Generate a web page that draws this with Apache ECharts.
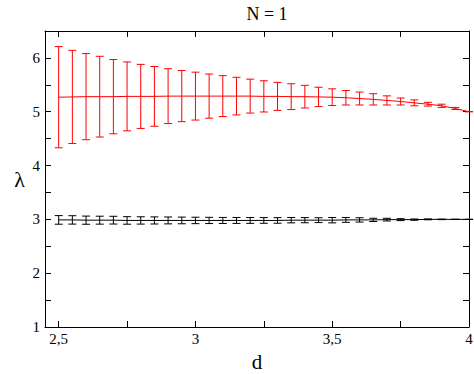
<!DOCTYPE html>
<html>
<head>
<meta charset="utf-8">
<script src="https://cdn.jsdelivr.net/npm/echarts@6/dist/echarts.min.js"></script>
<style>html,body{margin:0;padding:0;background:#fff;}#c{width:474px;height:374px;}</style>
</head>
<body>
<div id="c"></div>
<script>
const dValues = [2.5,2.55,2.6,2.65,2.7,2.75,2.8,2.85,2.9,2.95,3.0,3.05,3.1,3.15,3.2,3.25,3.3,3.35,3.4,3.45,3.5,3.55,3.6,3.65,3.7,3.75,3.8,3.85,3.9,3.95,4.0];
const redMean = [5.27,5.275,5.28,5.28,5.28,5.285,5.285,5.285,5.29,5.29,5.29,5.29,5.29,5.29,5.29,5.285,5.285,5.28,5.28,5.275,5.27,5.26,5.245,5.23,5.21,5.19,5.165,5.14,5.11,5.06,5.0];
const redErr = [0.94,0.865,0.80,0.75,0.69,0.64,0.595,0.555,0.51,0.475,0.445,0.41,0.38,0.35,0.315,0.29,0.26,0.24,0.21,0.18,0.155,0.135,0.12,0.105,0.085,0.065,0.055,0.035,0.03,0.02,0.0];
const blackMean = [2.99,2.99,2.985,2.985,2.985,2.98,2.98,2.98,2.98,2.98,2.98,2.98,2.98,2.98,2.98,2.98,2.98,2.985,2.985,2.985,2.985,2.99,2.99,2.99,2.995,2.995,2.995,3.0,3.0,3.0,3.0];
const blackErr = [0.08,0.078,0.076,0.074,0.072,0.07,0.068,0.066,0.064,0.062,0.06,0.058,0.056,0.055,0.054,0.053,0.052,0.05,0.048,0.045,0.05,0.045,0.04,0.03,0.025,0.018,0.012,0.008,0.005,0.003,0.0];
const xTickValues = [2.5,2.75,3,3.25,3.5,3.75,4];
const xLabelValues = [2.5,3,3.5,4];
const yTickValues = [1,1.5,2,2.5,3,3.5,4,4.5,5,5.5,6,6.5];
const yLabelValues = [1,2,3,4,5,6];
const titleText = 'N = 1';
const xName = 'd';
const yName = 'λ';

const RED = '#ff0000', BLACK = '#000000';
const FONT = "'Liberation Serif', 'Times New Roman', 'DejaVu Serif', serif";

function errData(mean, err){
  return dValues.map((d,i)=>[d, mean[i]-err[i], mean[i]+err[i]]);
}
function lineData(mean){ return dValues.map((d,i)=>[d, mean[i]]); }
function makeRender(color){
  return function(params, api){
    const x = api.value(0), lo = api.value(1), hi = api.value(2);
    const pLo = api.coord([x, lo]), pHi = api.coord([x, hi]);
    const hw = 4;
    const st = {stroke: color, lineWidth: 1, fill: null};
    return {type:'group', children:[
      {type:'line', shape:{x1:pLo[0],y1:pLo[1],x2:pHi[0],y2:pHi[1]}, style:st},
      {type:'line', shape:{x1:pHi[0]-hw,y1:pHi[1],x2:pHi[0]+hw,y2:pHi[1]}, style:st},
      {type:'line', shape:{x1:pLo[0]-hw,y1:pLo[1],x2:pLo[0]+hw,y2:pLo[1]}, style:st}
    ]};
  };
}
const fmt = v => String(v).replace('.', ',');
function xAxisCfg(pos, showLabel){
  return {
    type:'value', position:pos, min:2.45, max:4,
    name: showLabel ? xName : '', nameLocation:'middle', nameGap:24,
    nameTextStyle:{fontFamily:FONT, fontSize:21, color:'#000'},
    axisLine:{show:true, onZero:false, lineStyle:{color:'#000', width:1}},
    axisTick:{show:true, inside:true, length:6, customValues:xTickValues, lineStyle:{color:'#000'}},
    axisLabel:{show:showLabel, customValues:xLabelValues, formatter:fmt, margin:4, fontFamily:FONT, fontSize:15, color:'#000'},
    splitLine:{show:false}
  };
}
function yAxisCfg(pos, showLabel){
  return {
    type:'value', position:pos, min:1, max:6.5,
    name: showLabel ? yName : '', nameLocation:'middle', nameGap:20, nameRotate:0,
    nameTextStyle:{fontFamily:FONT, fontSize:22, color:'#000'},
    axisLine:{show:true, onZero:false, lineStyle:{color:'#000', width:1}},
    axisTick:{show:true, inside:true, length:6, customValues:yTickValues, lineStyle:{color:'#000'}},
    axisLabel:{show:showLabel, customValues:yLabelValues, formatter:fmt, margin:5, fontFamily:FONT, fontSize:15, color:'#000'},
    splitLine:{show:false}
  };
}
const chart = echarts.init(document.getElementById('c'), null, {renderer:'svg'});
chart.setOption({
  animation:false,
  backgroundColor:'#fff',
  textStyle:{fontFamily:FONT},
  title:{text:titleText, left:262, textAlign:'center', top:0, textStyle:{fontFamily:FONT, fontSize:18, fontWeight:'normal', color:'#000'}},
  grid:{left:45, right:5, top:31, bottom:47, containLabel:false, outerBoundsMode:'none'},
  xAxis:[xAxisCfg('bottom', true), xAxisCfg('top', false)],
  yAxis:[yAxisCfg('left', true), yAxisCfg('right', false)],
  series:[
    {type:'line', data:lineData(blackMean), symbol:'none', lineStyle:{color:BLACK, width:1}, xAxisIndex:0, yAxisIndex:0},
    {type:'custom', data:errData(blackMean, blackErr), renderItem:makeRender(BLACK), encode:{x:0, y:[1,2]}, xAxisIndex:0, yAxisIndex:0},
    {type:'line', data:lineData(redMean), symbol:'none', lineStyle:{color:RED, width:1}, xAxisIndex:0, yAxisIndex:0},
    {type:'custom', data:errData(redMean, redErr), renderItem:makeRender(RED), encode:{x:0, y:[1,2]}, xAxisIndex:0, yAxisIndex:0}
  ]
});
</script>
</body>
</html>
